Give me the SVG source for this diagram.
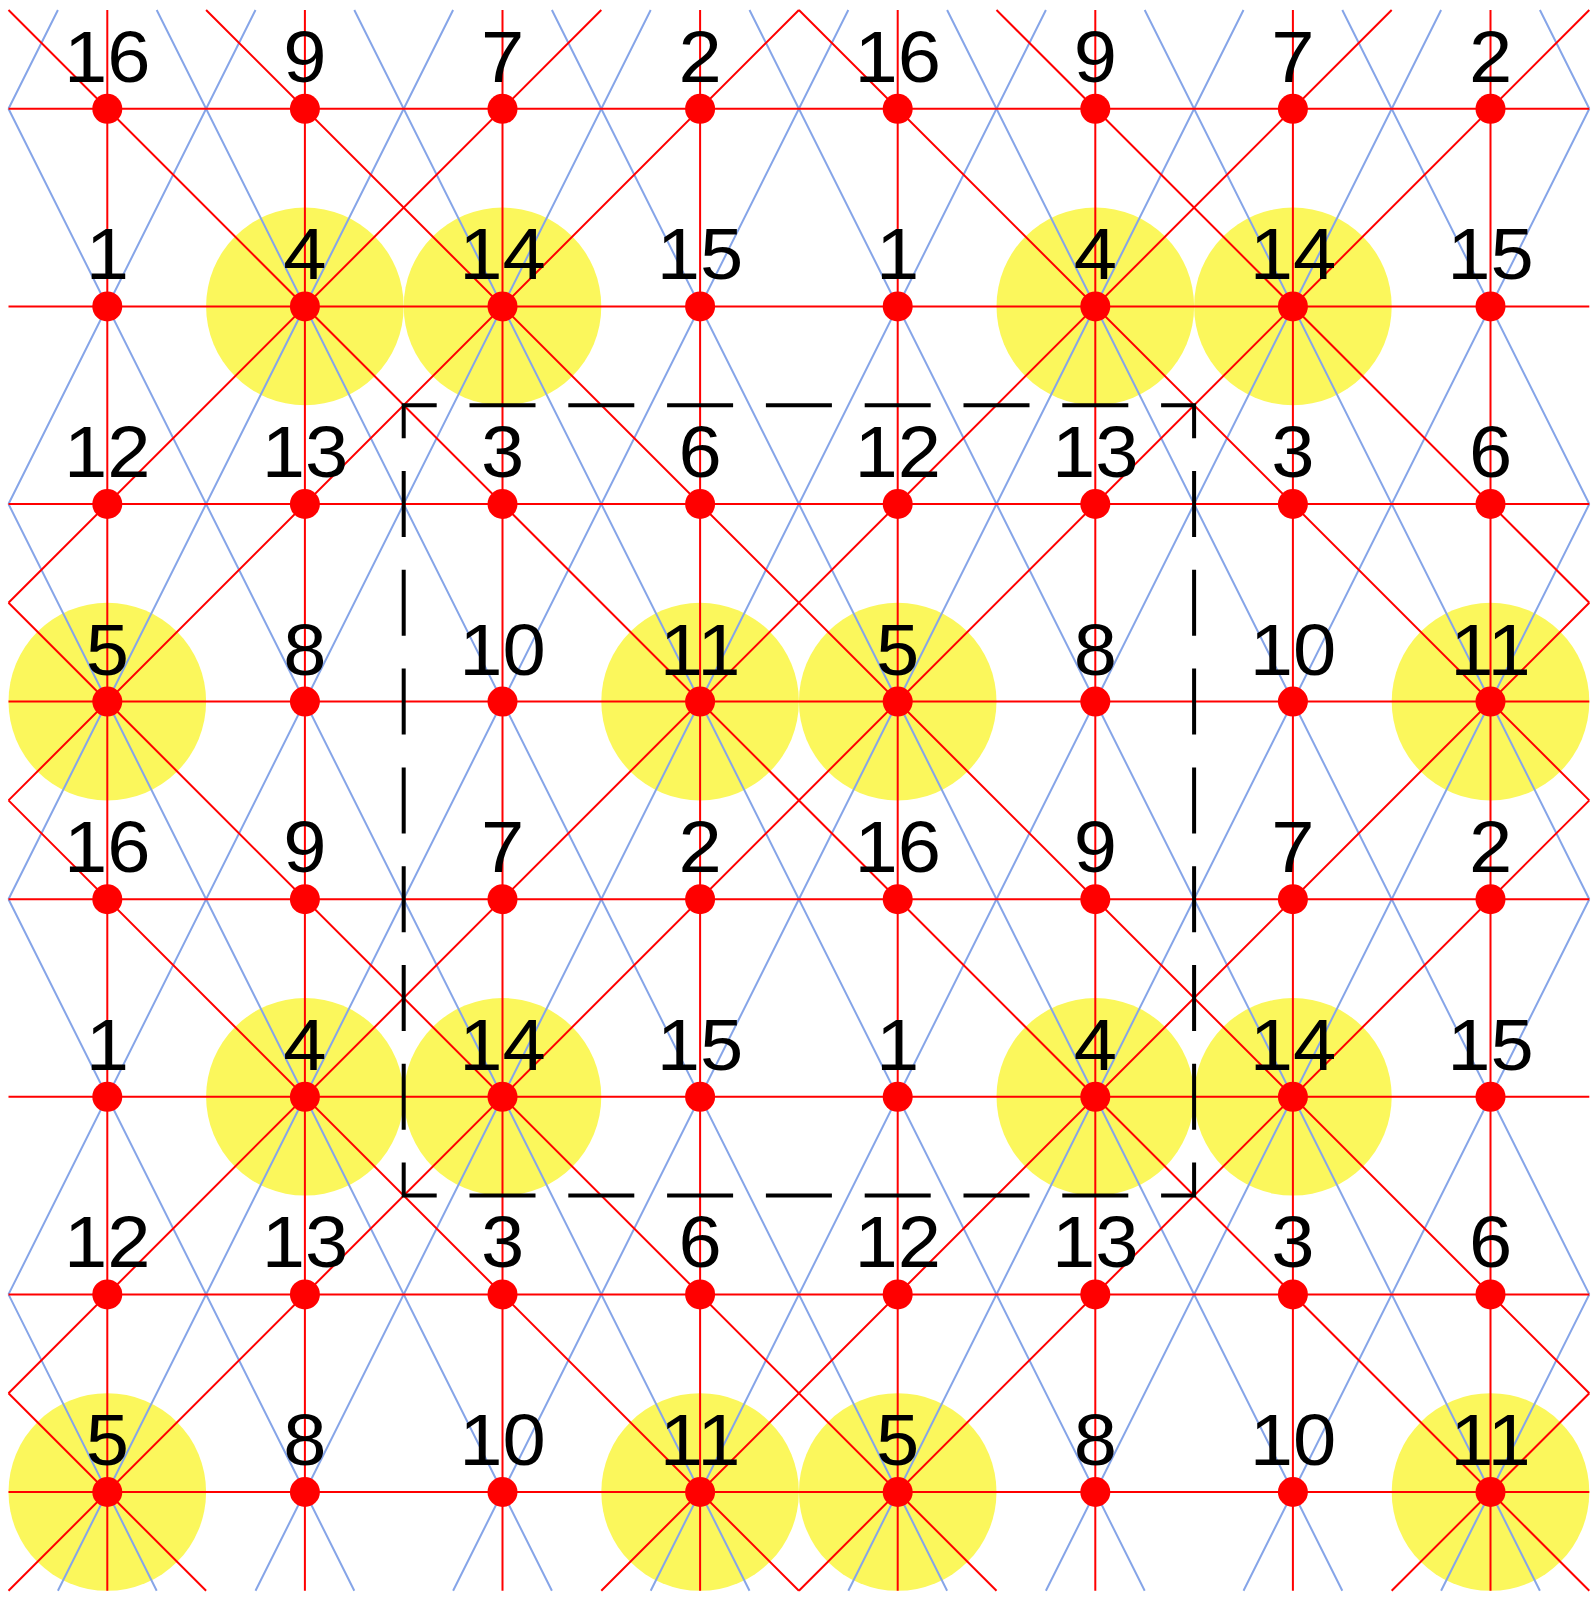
<svg xmlns="http://www.w3.org/2000/svg" width="1593" height="1600" viewBox="0 0 1593 1600">
<style>
.hl{fill:#fbf75c}
.blue{stroke:#86a5e8;stroke-width:2;fill:none}
.red{stroke:#ff0000;stroke-width:2;fill:none}
.dash{stroke:#000;stroke-width:4;fill:none;stroke-dasharray:66 32.8;stroke-dashoffset:33}
.dot{fill:#ff0000}
.t{font-family:"Liberation Sans",Arial,sans-serif;font-size:72px;text-anchor:middle;fill:#000}
</style>
<rect width="1593" height="1600" fill="#fff"/>
<g transform="translate(8.5,10)">
<g id="highlights">
<circle class="hl" cx="296.4" cy="296.4" r="98.8"/><circle class="hl" cx="1086.8" cy="296.4" r="98.8"/><circle class="hl" cx="296.4" cy="1086.8" r="98.8"/><circle class="hl" cx="1086.8" cy="1086.8" r="98.8"/>
<circle class="hl" cx="494" cy="296.4" r="98.8"/><circle class="hl" cx="1284.4" cy="296.4" r="98.8"/><circle class="hl" cx="494" cy="1086.8" r="98.8"/><circle class="hl" cx="1284.4" cy="1086.8" r="98.8"/>
<circle class="hl" cx="98.8" cy="691.6" r="98.8"/><circle class="hl" cx="889.2" cy="691.6" r="98.8"/><circle class="hl" cx="98.8" cy="1482" r="98.8"/><circle class="hl" cx="889.2" cy="1482" r="98.8"/>
<circle class="hl" cx="691.6" cy="691.6" r="98.8"/><circle class="hl" cx="1482" cy="691.6" r="98.8"/><circle class="hl" cx="691.6" cy="1482" r="98.8"/><circle class="hl" cx="1482" cy="1482" r="98.8"/>
</g>
<g id="connectors">
<path class="blue" d="M49.4 0L0 98.8M247 0L0 494M444.6 0L0 889.2M642.2 0L0 1284.4M839.8 0L49.4 1580.8M1037.4 0L247 1580.8M1235 0L444.6 1580.8M1432.6 0L642.2 1580.8M1580.8 98.8L839.8 1580.8M1580.8 494L1037.4 1580.8M1580.8 889.2L1235 1580.8M1580.8 1284.4L1432.6 1580.8"/>
<path class="blue" d="M0 1284.4L148.2 1580.8M0 889.2L345.8 1580.8M0 494L543.4 1580.8M0 98.8L741 1580.8M148.2 0L938.6 1580.8M345.8 0L1136.2 1580.8M543.4 0L1333.8 1580.8M741 0L1531.4 1580.8M938.6 0L1580.8 1284.4M1136.2 0L1580.8 889.2M1333.8 0L1580.8 494M1531.4 0L1580.8 98.8"/>
<path class="red" d="M0 98.8H1580.8M0 296.4H1580.8M0 494H1580.8M0 691.6H1580.8M0 889.2H1580.8M0 1086.8H1580.8M0 1284.4H1580.8M0 1482H1580.8"/>
<path class="red" d="M98.8 0V1580.8M296.4 0V1580.8M494 0V1580.8M691.6 0V1580.8M889.2 0V1580.8M1086.8 0V1580.8M1284.4 0V1580.8M1482 0V1580.8"/>
<path class="red" d="M0 1383.2L197.6 1580.8M0 790.4L790.4 1580.8M0 592.8L988 1580.8M0 0L1580.8 1580.8M197.6 0L1580.8 1383.2M790.4 0L1580.8 790.4M988 0L1580.8 592.8"/>
<path class="red" d="M0 592.8L592.8 0M0 790.4L790.4 0M0 1383.2L1383.2 0M0 1580.8L1580.8 0M592.8 1580.8L1580.8 592.8M790.4 1580.8L1580.8 790.4M1383.2 1580.8L1580.8 1383.2"/>
</g>
<g id="frame">
<path class="dash" d="M395.2 395.2H1185.6V1185.6H395.2Z"/>
</g>
<g id="nodes">
<g id="n00"><circle class="dot" cx="98.8" cy="98.8" r="15"/><text class="t" transform="translate(98.8 71.8) scale(1.08 1)">16</text></g>
<g id="n01"><circle class="dot" cx="296.4" cy="98.8" r="15"/><text class="t" transform="translate(296.4 71.8) scale(1.08 1)">9</text></g>
<g id="n02"><circle class="dot" cx="494" cy="98.8" r="15"/><text class="t" transform="translate(494 71.8) scale(1.08 1)">7</text></g>
<g id="n03"><circle class="dot" cx="691.6" cy="98.8" r="15"/><text class="t" transform="translate(691.6 71.8) scale(1.08 1)">2</text></g>
<g id="n04"><circle class="dot" cx="889.2" cy="98.8" r="15"/><text class="t" transform="translate(889.2 71.8) scale(1.08 1)">16</text></g>
<g id="n05"><circle class="dot" cx="1086.8" cy="98.8" r="15"/><text class="t" transform="translate(1086.8 71.8) scale(1.08 1)">9</text></g>
<g id="n06"><circle class="dot" cx="1284.4" cy="98.8" r="15"/><text class="t" transform="translate(1284.4 71.8) scale(1.08 1)">7</text></g>
<g id="n07"><circle class="dot" cx="1482" cy="98.8" r="15"/><text class="t" transform="translate(1482 71.8) scale(1.08 1)">2</text></g>
<g id="n10"><circle class="dot" cx="98.8" cy="296.4" r="15"/><text class="t" transform="translate(98.8 269.4) scale(1.08 1)">1</text></g>
<g id="n11"><circle class="dot" cx="296.4" cy="296.4" r="15"/><text class="t" transform="translate(296.4 269.4) scale(1.08 1)">4</text></g>
<g id="n12"><circle class="dot" cx="494" cy="296.4" r="15"/><text class="t" transform="translate(494 269.4) scale(1.08 1)">14</text></g>
<g id="n13"><circle class="dot" cx="691.6" cy="296.4" r="15"/><text class="t" transform="translate(691.6 269.4) scale(1.08 1)">15</text></g>
<g id="n14"><circle class="dot" cx="889.2" cy="296.4" r="15"/><text class="t" transform="translate(889.2 269.4) scale(1.08 1)">1</text></g>
<g id="n15"><circle class="dot" cx="1086.8" cy="296.4" r="15"/><text class="t" transform="translate(1086.8 269.4) scale(1.08 1)">4</text></g>
<g id="n16"><circle class="dot" cx="1284.4" cy="296.4" r="15"/><text class="t" transform="translate(1284.4 269.4) scale(1.08 1)">14</text></g>
<g id="n17"><circle class="dot" cx="1482" cy="296.4" r="15"/><text class="t" transform="translate(1482 269.4) scale(1.08 1)">15</text></g>
<g id="n20"><circle class="dot" cx="98.8" cy="494" r="15"/><text class="t" transform="translate(98.8 467) scale(1.08 1)">12</text></g>
<g id="n21"><circle class="dot" cx="296.4" cy="494" r="15"/><text class="t" transform="translate(296.4 467) scale(1.08 1)">13</text></g>
<g id="n22"><circle class="dot" cx="494" cy="494" r="15"/><text class="t" transform="translate(494 467) scale(1.08 1)">3</text></g>
<g id="n23"><circle class="dot" cx="691.6" cy="494" r="15"/><text class="t" transform="translate(691.6 467) scale(1.08 1)">6</text></g>
<g id="n24"><circle class="dot" cx="889.2" cy="494" r="15"/><text class="t" transform="translate(889.2 467) scale(1.08 1)">12</text></g>
<g id="n25"><circle class="dot" cx="1086.8" cy="494" r="15"/><text class="t" transform="translate(1086.8 467) scale(1.08 1)">13</text></g>
<g id="n26"><circle class="dot" cx="1284.4" cy="494" r="15"/><text class="t" transform="translate(1284.4 467) scale(1.08 1)">3</text></g>
<g id="n27"><circle class="dot" cx="1482" cy="494" r="15"/><text class="t" transform="translate(1482 467) scale(1.08 1)">6</text></g>
<g id="n30"><circle class="dot" cx="98.8" cy="691.6" r="15"/><text class="t" transform="translate(98.8 664.6) scale(1.08 1)">5</text></g>
<g id="n31"><circle class="dot" cx="296.4" cy="691.6" r="15"/><text class="t" transform="translate(296.4 664.6) scale(1.08 1)">8</text></g>
<g id="n32"><circle class="dot" cx="494" cy="691.6" r="15"/><text class="t" transform="translate(494 664.6) scale(1.08 1)">10</text></g>
<g id="n33"><circle class="dot" cx="691.6" cy="691.6" r="15"/><text class="t" transform="translate(691.6 664.6) scale(1.08 1)">11</text></g>
<g id="n34"><circle class="dot" cx="889.2" cy="691.6" r="15"/><text class="t" transform="translate(889.2 664.6) scale(1.08 1)">5</text></g>
<g id="n35"><circle class="dot" cx="1086.8" cy="691.6" r="15"/><text class="t" transform="translate(1086.8 664.6) scale(1.08 1)">8</text></g>
<g id="n36"><circle class="dot" cx="1284.4" cy="691.6" r="15"/><text class="t" transform="translate(1284.4 664.6) scale(1.08 1)">10</text></g>
<g id="n37"><circle class="dot" cx="1482" cy="691.6" r="15"/><text class="t" transform="translate(1482 664.6) scale(1.08 1)">11</text></g>
<g id="n40"><circle class="dot" cx="98.8" cy="889.2" r="15"/><text class="t" transform="translate(98.8 862.2) scale(1.08 1)">16</text></g>
<g id="n41"><circle class="dot" cx="296.4" cy="889.2" r="15"/><text class="t" transform="translate(296.4 862.2) scale(1.08 1)">9</text></g>
<g id="n42"><circle class="dot" cx="494" cy="889.2" r="15"/><text class="t" transform="translate(494 862.2) scale(1.08 1)">7</text></g>
<g id="n43"><circle class="dot" cx="691.6" cy="889.2" r="15"/><text class="t" transform="translate(691.6 862.2) scale(1.08 1)">2</text></g>
<g id="n44"><circle class="dot" cx="889.2" cy="889.2" r="15"/><text class="t" transform="translate(889.2 862.2) scale(1.08 1)">16</text></g>
<g id="n45"><circle class="dot" cx="1086.8" cy="889.2" r="15"/><text class="t" transform="translate(1086.8 862.2) scale(1.08 1)">9</text></g>
<g id="n46"><circle class="dot" cx="1284.4" cy="889.2" r="15"/><text class="t" transform="translate(1284.4 862.2) scale(1.08 1)">7</text></g>
<g id="n47"><circle class="dot" cx="1482" cy="889.2" r="15"/><text class="t" transform="translate(1482 862.2) scale(1.08 1)">2</text></g>
<g id="n50"><circle class="dot" cx="98.8" cy="1086.8" r="15"/><text class="t" transform="translate(98.8 1059.8) scale(1.08 1)">1</text></g>
<g id="n51"><circle class="dot" cx="296.4" cy="1086.8" r="15"/><text class="t" transform="translate(296.4 1059.8) scale(1.08 1)">4</text></g>
<g id="n52"><circle class="dot" cx="494" cy="1086.8" r="15"/><text class="t" transform="translate(494 1059.8) scale(1.08 1)">14</text></g>
<g id="n53"><circle class="dot" cx="691.6" cy="1086.8" r="15"/><text class="t" transform="translate(691.6 1059.8) scale(1.08 1)">15</text></g>
<g id="n54"><circle class="dot" cx="889.2" cy="1086.8" r="15"/><text class="t" transform="translate(889.2 1059.8) scale(1.08 1)">1</text></g>
<g id="n55"><circle class="dot" cx="1086.8" cy="1086.8" r="15"/><text class="t" transform="translate(1086.8 1059.8) scale(1.08 1)">4</text></g>
<g id="n56"><circle class="dot" cx="1284.4" cy="1086.8" r="15"/><text class="t" transform="translate(1284.4 1059.8) scale(1.08 1)">14</text></g>
<g id="n57"><circle class="dot" cx="1482" cy="1086.8" r="15"/><text class="t" transform="translate(1482 1059.8) scale(1.08 1)">15</text></g>
<g id="n60"><circle class="dot" cx="98.8" cy="1284.4" r="15"/><text class="t" transform="translate(98.8 1257.4) scale(1.08 1)">12</text></g>
<g id="n61"><circle class="dot" cx="296.4" cy="1284.4" r="15"/><text class="t" transform="translate(296.4 1257.4) scale(1.08 1)">13</text></g>
<g id="n62"><circle class="dot" cx="494" cy="1284.4" r="15"/><text class="t" transform="translate(494 1257.4) scale(1.08 1)">3</text></g>
<g id="n63"><circle class="dot" cx="691.6" cy="1284.4" r="15"/><text class="t" transform="translate(691.6 1257.4) scale(1.08 1)">6</text></g>
<g id="n64"><circle class="dot" cx="889.2" cy="1284.4" r="15"/><text class="t" transform="translate(889.2 1257.4) scale(1.08 1)">12</text></g>
<g id="n65"><circle class="dot" cx="1086.8" cy="1284.4" r="15"/><text class="t" transform="translate(1086.8 1257.4) scale(1.08 1)">13</text></g>
<g id="n66"><circle class="dot" cx="1284.4" cy="1284.4" r="15"/><text class="t" transform="translate(1284.4 1257.4) scale(1.08 1)">3</text></g>
<g id="n67"><circle class="dot" cx="1482" cy="1284.4" r="15"/><text class="t" transform="translate(1482 1257.4) scale(1.08 1)">6</text></g>
<g id="n70"><circle class="dot" cx="98.8" cy="1482" r="15"/><text class="t" transform="translate(98.8 1455) scale(1.08 1)">5</text></g>
<g id="n71"><circle class="dot" cx="296.4" cy="1482" r="15"/><text class="t" transform="translate(296.4 1455) scale(1.08 1)">8</text></g>
<g id="n72"><circle class="dot" cx="494" cy="1482" r="15"/><text class="t" transform="translate(494 1455) scale(1.08 1)">10</text></g>
<g id="n73"><circle class="dot" cx="691.6" cy="1482" r="15"/><text class="t" transform="translate(691.6 1455) scale(1.08 1)">11</text></g>
<g id="n74"><circle class="dot" cx="889.2" cy="1482" r="15"/><text class="t" transform="translate(889.2 1455) scale(1.08 1)">5</text></g>
<g id="n75"><circle class="dot" cx="1086.8" cy="1482" r="15"/><text class="t" transform="translate(1086.8 1455) scale(1.08 1)">8</text></g>
<g id="n76"><circle class="dot" cx="1284.4" cy="1482" r="15"/><text class="t" transform="translate(1284.4 1455) scale(1.08 1)">10</text></g>
<g id="n77"><circle class="dot" cx="1482" cy="1482" r="15"/><text class="t" transform="translate(1482 1455) scale(1.08 1)">11</text></g>
</g>
</g>
</svg>
